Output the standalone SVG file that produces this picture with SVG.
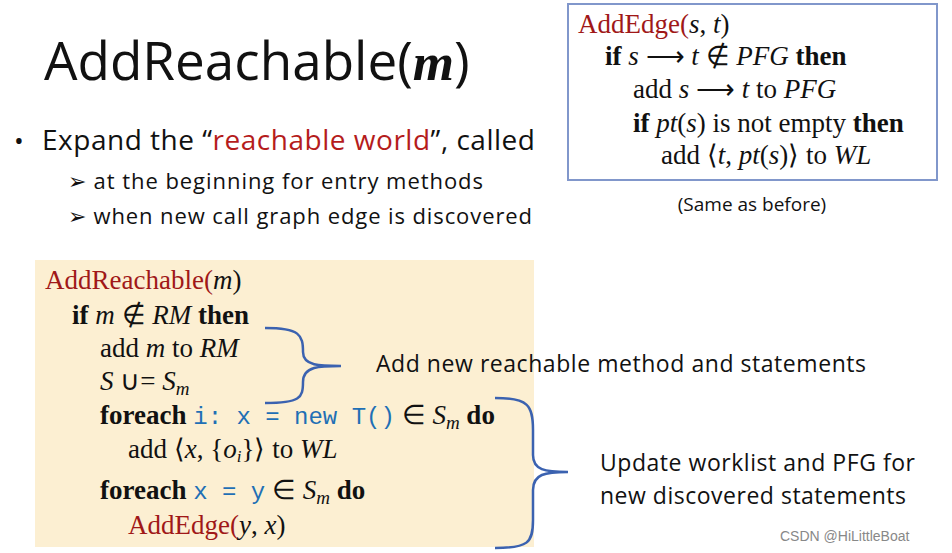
<svg xmlns="http://www.w3.org/2000/svg" width="952" height="553" viewBox="0 0 952 553">
<style>
.s{font-family:"Open Sans","Liberation Sans",sans-serif;fill:#111}
.c{font-family:"Liberation Serif",serif;font-size:27px;fill:#111}
.m{font-family:"Liberation Mono",monospace;fill:#1f6fb5}
.r{fill:#a01818}
.b{font-weight:bold}
.i{font-style:italic}
.br{fill:none;stroke:#3b62b0;stroke-width:2.5}
</style>
<rect width="952" height="553" fill="#fff"/>
<text class="s" x="44" y="80" font-size="53">AddReachable(<tspan font-family="Liberation Serif" font-style="italic" font-weight="bold">m</tspan>)</text>
<text class="s" x="14" y="150" font-size="26">•</text>
<text class="s" x="42" y="150" font-size="28" textLength="493">Expand the “<tspan fill="#b51c1c">reachable world</tspan>”, called</text>
<text class="s" x="68" y="189" font-size="22" textLength="415">➢ at the beginning for entry methods</text>
<text class="s" x="68" y="224" font-size="22" textLength="464">➢ when new call graph edge is discovered</text>

<g id="addreachable">
<rect x="35" y="260" width="499" height="287" fill="#fcefd2"/>
<text class="c r" x="45" y="289">AddReachable(<tspan class="i" fill="#111">m</tspan><tspan fill="#111">)</tspan></text>
<text class="c" x="72" y="324"><tspan class="b">if</tspan> <tspan class="i">m</tspan> ∉ <tspan class="i">RM</tspan> <tspan class="b">then</tspan></text>
<text class="c" x="100" y="357">add <tspan class="i">m</tspan> to <tspan class="i">RM</tspan></text>
<text class="c" x="100" y="390"><tspan class="i">S</tspan>  ∪= <tspan class="i">S<tspan font-size="19" dy="5">m</tspan></tspan></text>
<text class="c" x="100" y="424"><tspan class="b">foreach</tspan> <tspan class="m" font-size="24">i: x = new T()</tspan> ∈ <tspan class="i">S<tspan font-size="19" dy="5">m</tspan></tspan><tspan dy="-5" class="b"> do</tspan></text>
<text class="c" x="128" y="458">add ⟨<tspan class="i">x</tspan>, {<tspan class="i">o<tspan font-size="17" dy="4">i</tspan></tspan><tspan dy="-4">}⟩ to </tspan><tspan class="i">WL</tspan></text>
<text class="c" x="100" y="499"><tspan class="b">foreach</tspan> <tspan class="m" font-size="24">x = y</tspan> ∈ <tspan class="i">S<tspan font-size="19" dy="5">m</tspan></tspan><tspan dy="-5" class="b"> do</tspan></text>
<text class="c r" x="128" y="534">AddEdge(<tspan class="i" fill="#111">y</tspan><tspan fill="#111">, </tspan><tspan class="i" fill="#111">x</tspan><tspan fill="#111">)</tspan></text>
</g>

<g id="addedge">
<rect x="568" y="4" width="369" height="176" fill="#fff" stroke="#8197cb" stroke-width="2"/>
<text class="c r" x="578" y="33">AddEdge(<tspan class="i" fill="#111">s</tspan><tspan fill="#111">, </tspan><tspan class="i" fill="#111">t</tspan><tspan fill="#111">)</tspan></text>
<text class="c" x="605" y="65"><tspan class="b">if</tspan> <tspan class="i">s</tspan> ⟶ <tspan class="i">t</tspan> ∉ <tspan class="i">PFG</tspan> <tspan class="b">then</tspan></text>
<text class="c" x="633" y="98">add <tspan class="i">s</tspan> ⟶ <tspan class="i">t</tspan> to <tspan class="i">PFG</tspan></text>
<text class="c" x="633" y="132"><tspan class="b">if</tspan> <tspan class="i">pt</tspan>(<tspan class="i">s</tspan>) is not empty <tspan class="b">then</tspan></text>
<text class="c" x="661" y="164">add ⟨<tspan class="i">t</tspan>, <tspan class="i">pt</tspan>(<tspan class="i">s</tspan>)⟩ to <tspan class="i">WL</tspan></text>
<text class="s" x="752" y="211" font-size="19" text-anchor="middle">(Same as before)</text>
</g>

<g id="connectors">
<path class="br" d="M265,328 C300,328 303,335 303,352 C303,366 320,366 341,366 C320,366 303,366 303,382 C303,398 300,403 265,403"/>
<path class="br" d="M495,398 C528,398 533,405 533,430 L533,455 C533,470 545,472 568,472 C545,472 533,474 533,490 L533,520 C533,543 528,548 495,548"/>
</g>
<text class="s" x="376" y="372" font-size="23" textLength="490">Add new reachable method and statements</text>
<text class="s" x="600" y="471" font-size="23" textLength="315">Update worklist and PFG for</text>
<text class="s" x="600" y="504" font-size="23" textLength="306">new discovered statements</text>
<text x="780" y="541" font-family="Liberation Sans,sans-serif" font-size="14" fill="#888">CSDN @HiLittleBoat</text>
</svg>
